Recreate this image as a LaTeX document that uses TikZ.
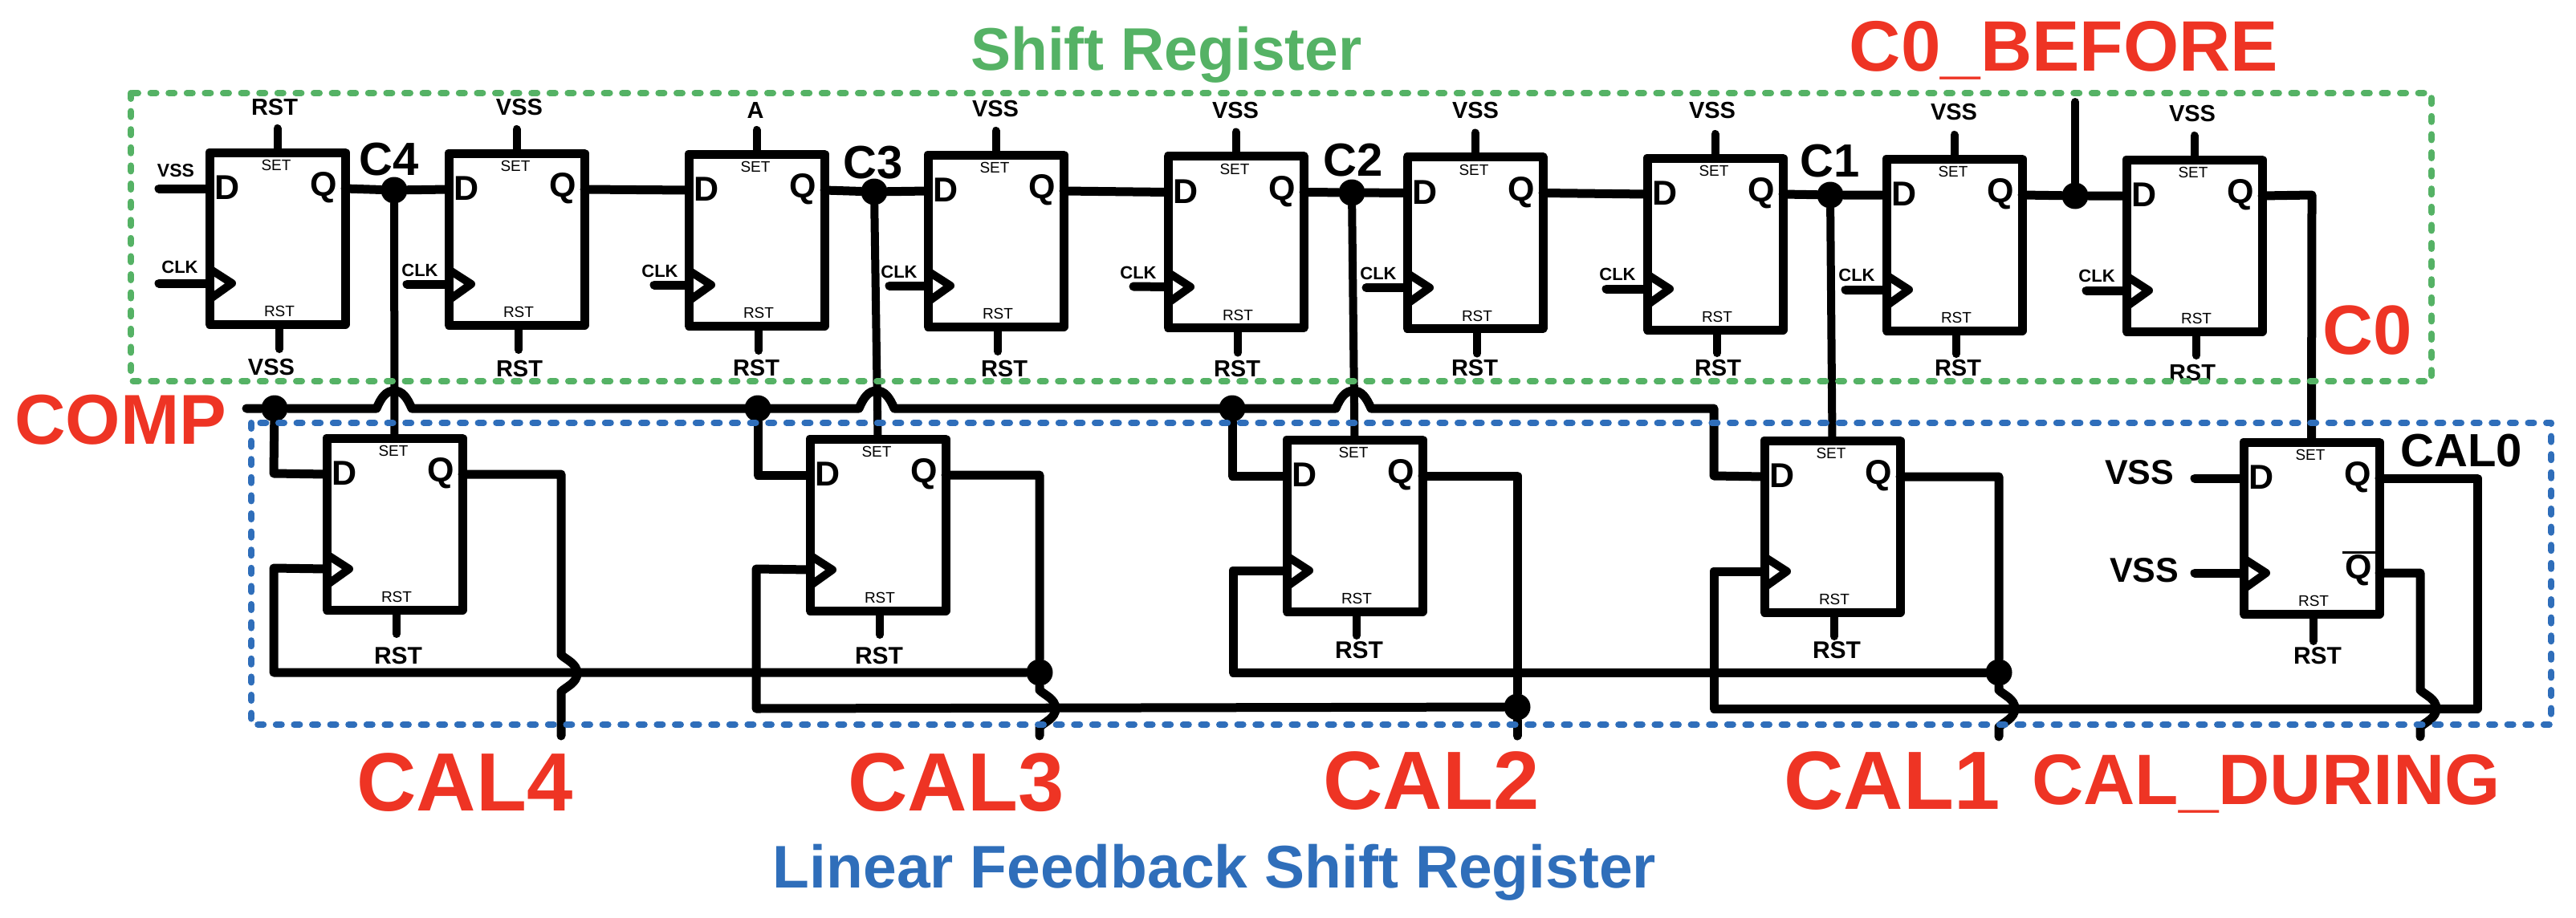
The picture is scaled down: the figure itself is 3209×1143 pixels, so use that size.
\documentclass[tikz,border=0pt]{standalone}
\usepackage{fontspec}
\setmainfont{Liberation Sans}
\definecolor{rd}{HTML}{EE3424}
\definecolor{gn}{HTML}{55B265}
\definecolor{bl}{HTML}{2F6EBA}
\newcommand\fsz[1]{\fontsize{#1}{#1}\selectfont}
\tikzset{
  wire/.style={line width=11pt,line join=round,line cap=round,black},
  tap/.style={line width=10pt,line join=round,line cap=round,black},
  ff/.style={draw=black,line width=11pt,line join=round,rectangle,minimum width=169pt,minimum height=214pt,inner sep=0,outer sep=0},
  dot/.style={circle,fill=black,minimum size=33pt,inner sep=0,outer sep=0},
  tb/.style={font=\fsz{#1}\bfseries,inner sep=0,outer sep=0,text=black},
  tr/.style={font=\fsz{#1},inner sep=0,outer sep=0,text=black},
  red/.style={font=\fsz{#1}\bfseries,inner sep=0,outer sep=0,text=rd,anchor=base},
  grn/.style={font=\fsz{#1}\bfseries,inner sep=0,outer sep=0,text=gn,anchor=base},
  blu/.style={font=\fsz{#1}\bfseries,inner sep=0,outer sep=0,text=bl,anchor=base},
  dash box/.style={line width=8pt,line cap=round,line join=round,dash pattern=on 7pt off 15.6pt},
}
% name, left, top : flip-flop body with pins
\newcommand\dff[3]{%
  \node[ff] (#1) at (#2+84.5,#3+107) {};
  \coordinate (#1d) at (#2,#3+45);
  \coordinate (#1c) at (#2,#3+163);
  \coordinate (#1q) at (#2+169,#3+45);
  \coordinate (#1b) at (#2+87,#3+214);
  \coordinate (#1s) at (#2+84.5,#3);
  \node[tb=43] (#1Dt) at (#2+22,#3+44) {D};
  \node[tb=43] (#1Qt) at (#2+142,#3+44) {Q};
  \node[tr=19] (#1St) at (#2+83,#3+16) {SET};
  \node[tr=19] (#1Rt) at (#2+87,#3+198) {RST};
  \draw[line width=10pt,line join=round] (#2,#3+145) -- (#2+28,#3+163) -- (#2,#3+183);
}
% vertical hop, bulging to the right, total 46 long
\newcommand\hopv{.. controls +(6,6) and +(0,-12) .. ++(20,23) .. controls +(0,12) and +(6,-6) .. ++(-20,23)}
% horizontal hop, going up, total 44 long
\newcommand\hoph{.. controls +(6,-14) and +(-10,0) .. ++(22,-22) .. controls +(10,0) and +(-6,-14) .. ++(22,22)}
\begin{document}
\begin{tikzpicture}[x=1pt,y=-1pt]
\useasboundingbox (0,0) rectangle (3209,1143);
% ---- shift register flip-flops
\dff{f1}{261}{190}
\dff{f2}{559}{191}
\dff{f3}{858}{192}
\dff{f4}{1156}{193}
\dff{f5}{1455}{194.5}
\dff{f6}{1753}{195.5}
\dff{f7}{2052}{197}
\dff{f8}{2350}{198}
\dff{f9}{2649}{199}
% ---- LFSR flip-flops
\dff{l1}{407}{546}
\dff{l2}{1009}{547}
\dff{l3}{1603}{548}
\dff{l4}{2198}{549}
\dff{l5}{2795}{551}
% ---- junctions
\node[dot] (c4) at (491,237) {};
\node[dot] (c3) at (1089,239) {};
\node[dot] (c2) at (1684,240) {};
\node[dot] (c1) at (2280,243) {};
\node[dot] (cb) at (2585,244) {};
\node[dot] (n1) at (342,509) {};
\node[dot] (n2) at (944,509) {};
\node[dot] (n3) at (1535,509) {};
\node[dot] (j2) at (1295,838) {};
\node[dot] (j3) at (1890,881) {};
\node[dot] (j4) at (2490,838) {};
% ---- free ends and corners
\coordinate (compS) at (307,509);
\coordinate (cbT) at (2585,127);
\coordinate (f1vss) at (198,235);
\foreach \n/\x/\y in {f1/198/353,f2/507/354,f3/815/355,f4/1108/356,f5/1412/357,f6/1702/358.5,f7/2001/360,f8/2299/361,f9/2599/362}
  {\draw[wire] (\x,\y) -- (\n c);}
\draw[wire] (f1vss) -- (f1d);
% ---- top / bottom stubs, shift register
\foreach \n/\c in {f1/31,f2/31,f3/31,f4/31,f5/31,f6/31,f7/29,f8/29,f9/30}
  {\draw[tap] (\n s) -- ++(0,-30);
   \draw[tap] (\n b) -- ++(0,\c);}
% ---- bottom stubs LFSR
\foreach \n/\e in {l1/30,l2/30,l3/30,l4/30,l5/34}
  {\draw[tap] (\n b) -- ++(0,\e);}
% ---- shift register chain
\draw[wire] (f1q) -- (c4) -- (f2d);
\draw[wire] (f2q) -- (f3d);
\draw[wire] (f3q) -- (c3) -- (f4d);
\draw[wire] (f4q) -- (f5d);
\draw[wire] (f5q) -- (c2) -- (f6d);
\draw[wire] (f6q) -- (f7d);
\draw[wire] (f7q) -- (c1) -- (f8d);
\draw[wire] (f8q) -- (cb) -- (f9d);
\draw[tap] (cbT) -- (cb);
% ---- taps down to the LFSR
\draw[tap] (c4) -- (l1s);
\draw[tap] (c3) -- (l2s);
\draw[tap] (c2) -- (l3s);
\draw[tap] (c1) -- (l4s);
\draw[wire] (f9q) -- (2880,243) -- (l5s);
% ---- COMP bus
\draw[wire] (compS) -- (n1) -- (469,509) \hoph -- (1070,509) \hoph -- (1664,509) \hoph -- (2135,509) -- (2135,593) -- (l4d);
\draw[wire] (n1) -- (341,590) -- (l1d);
\draw[wire] (n2) -- (944,592) -- (l2d);
\draw[wire] (n3) -- (1535,593) -- (l3d);
% ---- clocks
\draw[wire] (l1c) -- (341,708) -- (341,838) -- (j2);
\draw[wire] (l2c) -- (942,709) -- (942,883) -- (j3);
\draw[wire] (l3c) -- (1536,711) -- (1536,838) -- (j4);
\draw[wire] (l4c) -- (2135,712) -- (2135,883) -- (3086,883) -- (3086,596) -- (l5q);
% ---- Q outputs
\coordinate (o1) at (699,917);
\coordinate (o2) at (1295,917);
\coordinate (o3) at (1890,917);
\coordinate (o4) at (2490,918);
\coordinate (o5) at (3015,918);
\coordinate (l5nq) at (2964,714);
\draw[wire] (l1q) -- (699,591) -- (699,816) \hopv -- (o1);
\draw[wire] (l2q) -- (1295,592) -- (j2) -- (1295,860) \hopv -- (o2);
\draw[wire] (l3q) -- (1890,593) -- (j3) -- (o3);
\draw[wire] (l4q) -- (2490,594) -- (j4) -- (2490,860) \hopv -- (o4);
\draw[wire] (l5nq) -- (3015,714) -- (3015,860) \hopv -- (o5);
% ---- VSS stubs on last LFSR stage
\coordinate (v1) at (2734,596);
\coordinate (v2) at (2734,714);
\draw[wire] (v1) -- (l5d);
\draw[wire] (v2) -- (l5c);
% Q-bar
\node[tb=43] (qbar) at (2938,711) {Q};
\coordinate (qa) at (2918,688);
\coordinate (qb) at (2960,688);
\draw[line width=3pt] (qa) -- (qb);
\node[tb=29] (lt1) at (342,134) {RST};
\node[tb=29] (lt2) at (647,134) {VSS};
\node[tb=29] (lt3) at (941,138) {A};
\node[tb=29] (lt4) at (1240,136) {VSS};
\node[tb=29] (lt5) at (1539,138) {VSS};
\node[tb=29] (lt6) at (1838,138) {VSS};
\node[tb=29] (lt7) at (2133,138) {VSS};
\node[tb=29] (lt8) at (2434,140) {VSS};
\node[tb=29] (lt9) at (2731,142) {VSS};
\node[tb=29] (lb1) at (338,458) {VSS};
\node[tb=29] (lb2) at (647,460) {RST};
\node[tb=29] (lb3) at (942,459) {RST};
\node[tb=29] (lb4) at (1251,460) {RST};
\node[tb=29] (lb5) at (1541,460) {RST};
\node[tb=29] (lb6) at (1837,459) {RST};
\node[tb=29] (lb7) at (2140,459) {RST};
\node[tb=29] (lb8) at (2439,459) {RST};
\node[tb=29] (lb9) at (2731,465) {RST};
\node[tb=23] (lv) at (219,213) {VSS};
\node[tb=22] (ck1) at (224,333) {CLK};
\node[tb=22] (ck2) at (523,337) {CLK};
\node[tb=22] (ck3) at (822,338) {CLK};
\node[tb=22] (ck4) at (1120,339) {CLK};
\node[tb=22] (ck5) at (1418,340) {CLK};
\node[tb=22] (ck6) at (1717,341) {CLK};
\node[tb=22] (ck7) at (2015,342) {CLK};
\node[tb=22] (ck8) at (2313,343) {CLK};
\node[tb=22] (ck9) at (2612,344) {CLK};
\node[tb=58] (tc4) at (485,199) {C4};
\node[tb=58] (tc3) at (1088,203) {C3};
\node[tb=58] (tc2) at (1686,200) {C2};
\node[tb=58] (tc1) at (2280,201) {C1};
\node[tb=30] (r1) at (496,817) {RST};
\node[tb=30] (r2) at (1095,817) {RST};
\node[tb=30] (r3) at (1693,810) {RST};
\node[tb=30] (r4) at (2288,810) {RST};
\node[tb=30] (r5) at (2887,817) {RST};
\node[tb=43] (tv1) at (2665,589) {VSS};
\node[tb=43] (tv2) at (2671,711) {VSS};
\node[tb=58] (tcal0) at (3066,562) {CAL0};
% ---- coloured titles
\node[grn=75] (sr) at (1453,87) {Shift Register};
\node[blu=75] (lf) at (1513,1106) {Linear Feedback Shift Register};
\node[red=88] (comp) at (150,553) {COMP};
\node[red=89] (cbl) at (2571,88) {C0\_BEFORE};
\node[red=87] (c0) at (2949,441) {C0};
\node[red=103] (cal4) at (579,1010) {CAL4};
\node[red=103] (cal3) at (1191,1010) {CAL3};
\node[red=103] (cal2) at (1783,1008) {CAL2};
\node[red=103] (cal1) at (2357,1008) {CAL1};
\node[red=89] (cald) at (2823,1002) {CAL\_DURING};
% ---- dashed frames
\draw[dash box,draw=gn] (163,116) rectangle (3029,475);
\draw[dash box,draw=bl] (313,527) rectangle (3178,903);
\end{tikzpicture}
\end{document}
